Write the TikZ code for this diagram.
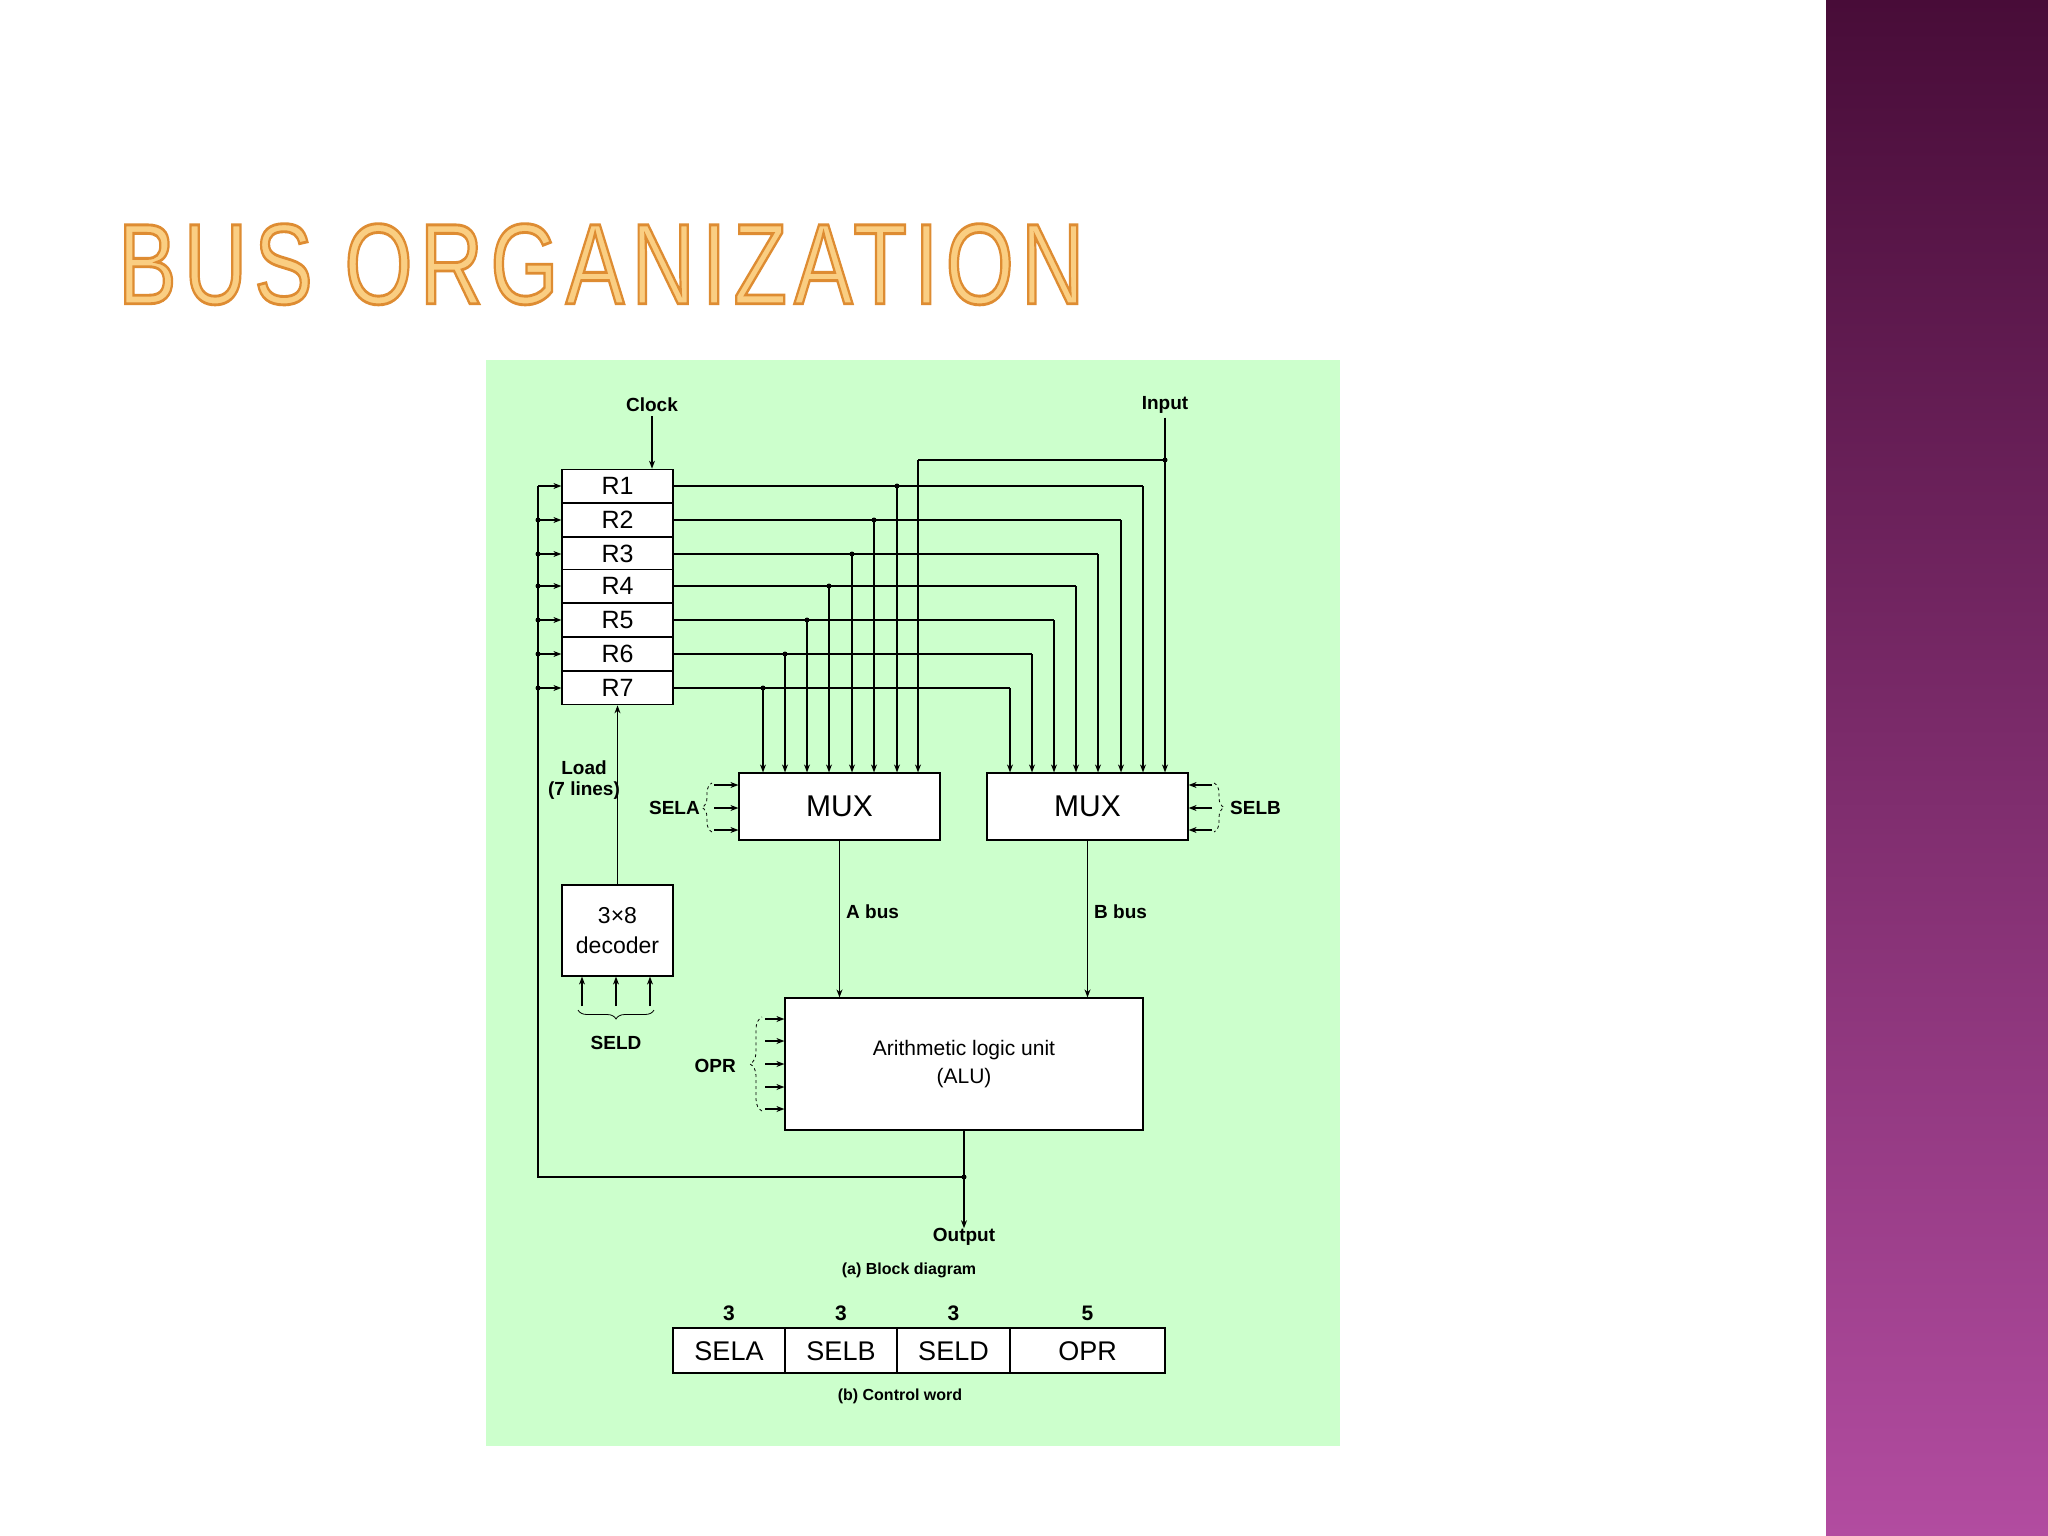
\documentclass[tikz,border=0pt]{standalone}
\usepackage{fontspec}
\setmainfont{Liberation Sans}
\usetikzlibrary{arrows.meta,decorations.pathreplacing,calc}
\definecolor{panel}{RGB}{204,255,204}
\definecolor{ttl}{RGB}{250,206,130}
\definecolor{ttlo}{RGB}{222,140,50}
\definecolor{ptop}{RGB}{72,12,56}
\definecolor{pbot}{RGB}{178,76,160}
\tikzset{
  bx/.style={draw,fill=white,line width=1.2pt,inner sep=0pt},
  wire/.style={line width=1.1pt},
  arr/.style={wire,-{Stealth[length=8pt,width=6pt]}},
  jd/.style={circle,fill=black,inner sep=0pt,minimum size=5pt},
  lbl/.style={font=\bfseries\fontsize{19}{21}\selectfont,inner sep=0pt},
  btxt/.style={font=\fontsize{25}{28}\selectfont},
}
\begin{document}
\begin{tikzpicture}[x=1pt,y=-1pt]
\useasboundingbox (0,0) rectangle (2048,1536);
\fill[white] (0,0) rectangle (2048,1536);
\shade[top color=ptop,bottom color=pbot] (1826,0) rectangle (2048,1536);
\node[anchor=south west,inner sep=0pt,text=ttl] (title) at (118,305)
  {\resizebox{966pt}{80pt}{\addfontfeatures{LetterSpace=8}\pgfsetstrokecolor{ttlo}\pgfsetlinewidth{0.25pt}\special{pdf:literal 2 Tr}BUS ORGANIZATION\special{pdf:literal 0 Tr}}};
\fill[panel] (486,360) rectangle (1340,1446);
% registers
\foreach \i/\y in {1/486,2/520,3/554,4/586,5/620,6/654,7/688}{
  \node[bx,minimum width=111pt,minimum height=33.5pt,btxt] (R\i) at (617.5,\y) {R\i};
}
\node[lbl] (clk) at (652,405) {Clock};
\draw[arr] (clk.south) ++(0,4) coordinate (ck) -- (ck |- R1.north);
\node[lbl] (inp) at (1165,405) {Input};
% MUXes
\node[bx,minimum width=201pt,minimum height=67pt,font=\fontsize{30}{32}\selectfont] (MA) at (839.5,806.5) {MUX};
\node[bx,minimum width=201pt,minimum height=67pt,font=\fontsize{30}{32}\selectfont] (MB) at (1087.5,806.5) {MUX};
% register lines
\foreach \i/\xa/\xb in {7/763/1010,6/785/1032,5/807/1054,4/829/1076,3/852/1098,2/874/1121,1/897/1143}{
  \draw[wire] (R\i.east) -- (\xb,0 |- R\i.east) coordinate (c\i);
  \draw[arr] (c\i) -- (c\i |- MB.north);
  \node[jd] (d\i) at (\xa,0 |- R\i.east) {};
  \draw[arr] (d\i.center) -- (d\i |- MA.north);
}
\draw[arr] (inp.south) ++(0,4) coordinate (ic) -- (ic |- MB.north);
\node[jd] (ij) at (1165,460) {};
\draw[wire] (ij.center) -- (918,460) coordinate (ia);
\draw[arr] (ia) -- (ia |- MA.north);
% decoder
\node[bx,minimum width=111pt,minimum height=91pt,align=center,font=\fontsize{23}{30}\selectfont] (dec) at (617.5,930.5) {3×8\\decoder};
\draw[arr] (dec.north) -- (R7.south);
\node[lbl,align=center] (load) at (584,780) {Load\\(7 lines)};
\foreach \x in {582,616,650}{ \coordinate (s\x) at (\x,1006); \draw[arr] (s\x) -- (s\x |- dec.south); }
\draw[wire,line width=0.8pt,decorate,decoration={brace,mirror,amplitude=9pt}] (578,1010) -- (654,1010);
\node[lbl] (seld) at (616,1043) {SELD};
% SELA / SELB
\foreach \y in {785,808,830}{
  \coordinate (sa\y) at (714,\y); \draw[arr] (sa\y) -- (MA.west |- sa\y);
  \coordinate (sb\y) at (1212,\y); \draw[arr] (sb\y) -- (MB.east |- sb\y);
}
\draw[dashed,line width=0.8pt,decorate,decoration={brace,amplitude=10pt}] (712,832) -- (712,783);
\draw[dashed,line width=0.8pt,decorate,decoration={brace,amplitude=10pt}] (1214,783) -- (1214,832);
\node[lbl,anchor=east] (sela) at (700,808) {SELA};
\node[lbl,anchor=west] (selb) at (1230,808) {SELB};
% ALU
\node[bx,minimum width=358pt,minimum height=132pt,align=center,font=\fontsize{21}{28}\selectfont] (alu) at (964,1064) {Arithmetic logic unit\\(ALU)};
\draw[arr] (MA.south) -- (MA.south |- alu.north);
\draw[arr] (MB.south) -- (MB.south |- alu.north);
\node[lbl,anchor=west] (abus) at (846,912) {A bus};
\node[lbl,anchor=west] (bbus) at (1094,912) {B bus};
\foreach \y in {1019,1041,1064,1087,1109}{ \coordinate (o\y) at (765,\y); \draw[arr] (o\y) -- (alu.west |- o\y); }
\draw[dashed,line width=0.8pt,decorate,decoration={brace,amplitude=12pt}] (762,1111) -- (762,1017);
\node[lbl,anchor=east] (opr) at (736,1066) {OPR};
% output & feedback
\coordinate (fb) at (964,1177);
\node[lbl] (out) at (964,1237) {Output};
\draw[arr] (alu.south) -- (out.north);
\node[jd] at (fb) {};
\draw[wire] (fb) -- (538,1177) -- (538,486) coordinate (ft);
\foreach \i in {1,...,7}{ \draw[arr] (538,0 |- R\i.west) -- (R\i.west); }
\foreach \i in {2,...,7}{ \node[jd] at (538,0 |- R\i.west) {}; }
\node[lbl,font=\bfseries\fontsize{16}{18}\selectfont] (capa) at (909,1270) {(a) Block diagram};
% control word
\foreach \n/\a/\b/\t/\num in {cA/673/785/SELA/3,cB/785/897/SELB/3,cD/897/1010/SELD/3,cO/1010/1165/OPR/5}{
  \draw[line width=1.2pt,fill=white] (\a,1328) rectangle (\b,1373);
  \node[font=\fontsize{27}{30}\selectfont] (\n) at ({(\a+\b)/2},1351) {\t};
  \node[lbl,font=\bfseries\fontsize{21}{23}\selectfont] (\n n) at ({(\a+\b)/2},1313) {\num};
}
\node[lbl,font=\bfseries\fontsize{16}{18}\selectfont] (capb) at (900,1396) {(b) Control word};
\end{tikzpicture}
\end{document}
